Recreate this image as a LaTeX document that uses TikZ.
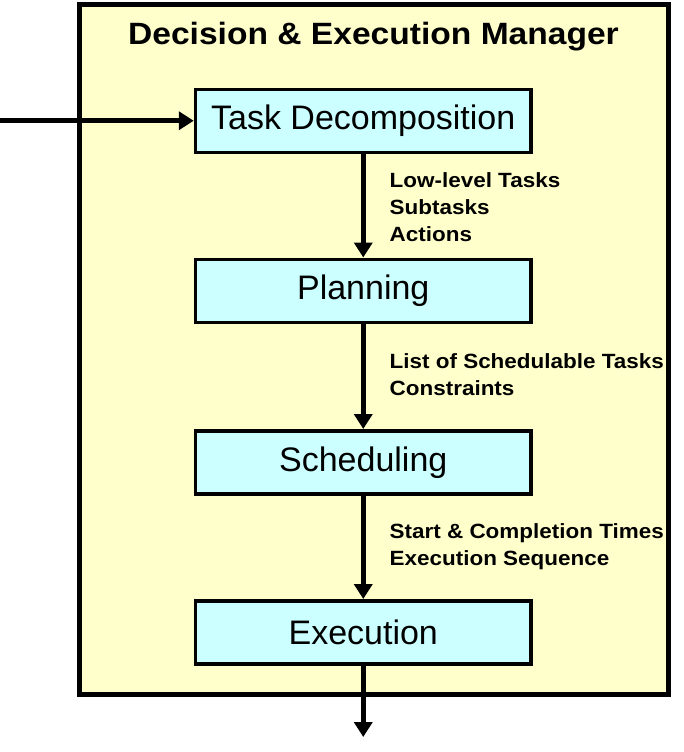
\documentclass[tikz,border=0pt]{standalone}
\usepackage{fontspec}
\setmainfont{Liberation Sans}
\newfontfamily\boldwide[FakeStretch=1.09]{Liberation Sans Bold}
\usetikzlibrary{arrows.meta}
\definecolor{paleyellow}{HTML}{FFFFCC}
\definecolor{palecyan}{HTML}{CCFFFF}
\tikzset{
  outerbox/.style={draw=black, line width=5pt, fill=paleyellow, minimum width=588.5pt, minimum height=690pt, inner sep=0pt},
  stagebox/.style={draw=black, line width=3.5pt, fill=palecyan, minimum width=335.5pt, minimum height=63pt, inner sep=0pt, font=\fontsize{34}{40}\selectfont},
  titletext/.style={anchor=base, inner sep=0pt, font=\boldwide\fontsize{30.8}{36}\selectfont},
  flowlabel/.style={anchor=base west, inner sep=0pt, align=left, font=\boldwide\fontsize{20.6}{27}\selectfont},
  flow/.style={line width=4.8pt, -{Triangle[length=15pt,width=18pt]}}
}
\begin{document}
\begin{tikzpicture}[x=1pt, y=-1pt]
\useasboundingbox (0,0) rectangle (684,752);
\node[outerbox] (dem) at (373.75,349.5) {};
\node[titletext] (title) at (373.5,45) {Decision \& Execution Manager};
\node[stagebox] (task) at (363.25,120.75) {Task Decomposition};
\node[stagebox] (plan) at (363.25,290.75) {Planning};
\node[stagebox] (sched) at (363.25,462.25) {Scheduling};
\node[stagebox] (exec) at (363.25,632.25) {Execution};
\coordinate (in) at (0,120.75);
\coordinate (out) at (363.25,737);
\draw[flow] (in) -- (task.west);
\draw[flow] (task.south) -- (plan.north);
\draw[flow] (plan.south) -- (sched.north);
\draw[flow] (sched.south) -- (exec.north);
\draw[flow] (exec.south) -- (out);
\node[flowlabel] (l1) at (389.5,241.5) {Low-level Tasks\\Subtasks\\Actions};
\node[flowlabel] (l2) at (389.5,395.5) {List of Schedulable Tasks\\Constraints};
\node[flowlabel] (l3) at (389.5,565.3) {Start \& Completion Times\\Execution Sequence};
\end{tikzpicture}
\end{document}
